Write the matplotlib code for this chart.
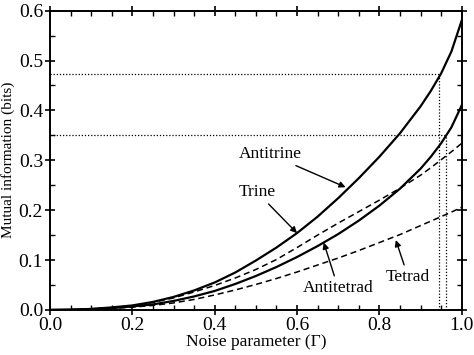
import matplotlib
matplotlib.use("Agg")
import matplotlib.pyplot as plt
from matplotlib.ticker import MultipleLocator

plt.rcParams['font.family'] = ['Liberation Serif', 'DejaVu Serif']

gamma = [0.0, 0.05, 0.1, 0.15, 0.2, 0.25, 0.3, 0.35, 0.4, 0.45, 0.5,
         0.55, 0.6, 0.65, 0.7, 0.75, 0.8, 0.85, 0.9, 0.925, 0.95, 0.975, 1.0]
antitrine = [0.0, 0.0005, 0.002, 0.005, 0.009, 0.016, 0.026, 0.039, 0.055, 0.075, 0.099,
             0.125, 0.154, 0.187, 0.224, 0.264, 0.307, 0.354, 0.408, 0.439, 0.474, 0.518, 0.580]
unlabeled_dashed = [0.0, 0.0005, 0.002, 0.0045, 0.008, 0.015, 0.024, 0.036, 0.049, 0.064, 0.081,
                    0.101, 0.125, 0.150, 0.174, 0.197, 0.220, 0.244, 0.270, 0.285, 0.301, 0.317, 0.334]
antitetrad = [0.0, 0.0004, 0.0015, 0.0035, 0.007, 0.011, 0.018, 0.027, 0.038, 0.052, 0.068,
              0.086, 0.106, 0.128, 0.152, 0.179, 0.209, 0.243, 0.283, 0.307, 0.334, 0.366, 0.410]
tetrad = [0.0, 0.0003, 0.0012, 0.003, 0.0055, 0.009, 0.014, 0.021, 0.030, 0.040, 0.051,
          0.063, 0.076, 0.090, 0.104, 0.119, 0.135, 0.151, 0.169, 0.178, 0.187, 0.196, 0.206]

ref_x = [0.946, 0.963]
ref_y = [0.472, 0.350]

fig = plt.figure(figsize=(4.74, 3.55), dpi=100)
ax = fig.add_axes([0.1055, 0.127, 0.8685, 0.843])

ax.plot(gamma, antitrine, color='black', lw=1.6)
ax.plot(gamma, antitetrad, color='black', lw=1.6)
ax.plot(gamma, unlabeled_dashed, color='black', lw=1.1, ls=(0, (4, 2.5)))
ax.plot(gamma, tetrad, color='black', lw=1.1, ls=(0, (4, 2.5)))

for xv, yv in zip(ref_x, ref_y):
    ax.plot([0, xv], [yv, yv], color='black', lw=0.9, ls=(0, (1, 1.5)))
    ax.plot([xv, xv], [0, yv], color='black', lw=0.9, ls=(0, (1, 1.5)))

ax.set_xlim(0, 1.0)
ax.set_ylim(0, 0.6)
ax.xaxis.set_major_locator(MultipleLocator(0.2))
ax.xaxis.set_minor_locator(MultipleLocator(0.05))
ax.yaxis.set_major_locator(MultipleLocator(0.1))
ax.yaxis.set_minor_locator(MultipleLocator(0.05))
ax.xaxis.set_major_formatter(plt.FuncFormatter(lambda v, p: f"{v:.1f}"))
ax.yaxis.set_major_formatter(plt.FuncFormatter(lambda v, p: f"{v:.1f}"))
ax.tick_params(which='major', direction='inout', length=7, width=1.2, labelsize=14,
               top=True, right=True, pad=1.5)
ax.tick_params(which='minor', direction='in', length=3.5, width=1.0, top=True, right=True)
for s in ax.spines.values():
    s.set_linewidth(1.4)

ax.set_xlabel('Noise parameter (Γ)', fontsize=12.5, labelpad=0)
ax.set_ylabel('Mutual information (bits)', fontsize=11, va='center')
ax.yaxis.set_label_coords(-0.102, 0.5)

arrow = dict(arrowstyle='-|>', color='black', lw=1.0, mutation_scale=9, shrinkA=1, shrinkB=0)
ax.annotate('Antitrine', xy=(0.718, 0.246), xytext=(0.534, 0.312), fontsize=12.5,
            ha='center', va='center', arrowprops=arrow)
ax.annotate('Trine', xy=(0.60, 0.154), xytext=(0.503, 0.236), fontsize=12.5,
            ha='center', va='center', arrowprops=arrow)
ax.annotate('Antitetrad', xy=(0.665, 0.135), xytext=(0.70, 0.044), fontsize=12.5,
            ha='center', va='center', arrowprops=arrow)
ax.annotate('Tetrad', xy=(0.84, 0.140), xytext=(0.87, 0.066), fontsize=12.5,
            ha='center', va='center', arrowprops=arrow)

fig.savefig('out.png', dpi=100)
